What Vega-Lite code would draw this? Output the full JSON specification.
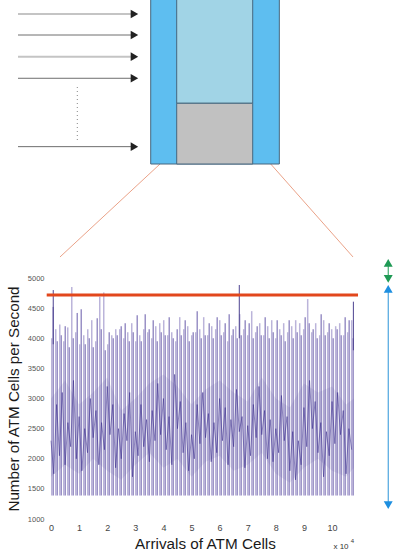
{
  "$schema": "https://vega.github.io/schema/vega-lite/v6.json",
  "width": 308,
  "height": 241,
  "autosize": {"type": "none"},
  "padding": {"left": 51, "top": 278, "right": 34, "bottom": 35},
  "background": "white",
  "config": {
    "view": {"stroke": null},
    "axis": {"grid": false, "domain": false, "ticks": false, "labelOverlap": false, "labelFlush": false, "labelFont": "Liberation Sans", "titleFont": "Liberation Sans", "titleFontWeight": "normal"}
  },
  "datasets": {
    "stripes": [
      {"x": 0.027, "L": 4000, "D": 4520}, {"x": 0.169, "L": 4150, "D": 3950}, {"x": 0.312, "L": 4230, "D": 4050}, {"x": 0.454, "L": 3950, "D": 4200},
      {"x": 0.596, "L": 4180, "D": 3850}, {"x": 0.739, "L": 4850, "D": 4000}, {"x": 0.881, "L": 4100, "D": 4420}, {"x": 1.023, "L": 3900, "D": 4480},
      {"x": 1.165, "L": 4050, "D": 3900}, {"x": 1.308, "L": 4150, "D": 4000}, {"x": 1.45, "L": 4300, "D": 3850}, {"x": 1.592, "L": 3950, "D": 4330},
      {"x": 1.735, "L": 4690, "D": 4150}, {"x": 1.877, "L": 4760, "D": 3800}, {"x": 2.019, "L": 3900, "D": 4100}, {"x": 2.162, "L": 4050, "D": 4000},
      {"x": 2.304, "L": 4150, "D": 4050}, {"x": 2.446, "L": 4150, "D": 4200}, {"x": 2.588, "L": 4000, "D": 4250}, {"x": 2.731, "L": 4100, "D": 3950},
      {"x": 2.873, "L": 4250, "D": 4100}, {"x": 3.015, "L": 3950, "D": 4380}, {"x": 3.158, "L": 4050, "D": 3950}, {"x": 3.3, "L": 4150, "D": 4400},
      {"x": 3.442, "L": 4100, "D": 4150}, {"x": 3.585, "L": 4000, "D": 4300}, {"x": 3.727, "L": 4200, "D": 3950}, {"x": 3.869, "L": 4250, "D": 4100},
      {"x": 4.011, "L": 4300, "D": 4050}, {"x": 4.154, "L": 4050, "D": 4350}, {"x": 4.296, "L": 4100, "D": 4000}, {"x": 4.438, "L": 3950, "D": 4150},
      {"x": 4.581, "L": 4350, "D": 4050}, {"x": 4.723, "L": 4150, "D": 4300}, {"x": 4.865, "L": 4200, "D": 3950}, {"x": 5.008, "L": 4050, "D": 4100},
      {"x": 5.15, "L": 4100, "D": 4450}, {"x": 5.292, "L": 4150, "D": 4000}, {"x": 5.434, "L": 4350, "D": 4050}, {"x": 5.577, "L": 4050, "D": 4250},
      {"x": 5.719, "L": 4200, "D": 4000}, {"x": 5.861, "L": 4150, "D": 4350}, {"x": 6.004, "L": 4300, "D": 4050}, {"x": 6.146, "L": 4100, "D": 4250},
      {"x": 6.288, "L": 3950, "D": 4400}, {"x": 6.431, "L": 4050, "D": 4150}, {"x": 6.573, "L": 4200, "D": 4000}, {"x": 6.715, "L": 4400, "D": 4050},
      {"x": 6.857, "L": 4150, "D": 4300}, {"x": 7.0, "L": 4050, "D": 4250}, {"x": 7.142, "L": 4450, "D": 4000}, {"x": 7.284, "L": 4100, "D": 4200},
      {"x": 7.427, "L": 4250, "D": 4050}, {"x": 7.569, "L": 4050, "D": 4350}, {"x": 7.711, "L": 4200, "D": 4000}, {"x": 7.854, "L": 4300, "D": 4100},
      {"x": 7.996, "L": 4000, "D": 4300}, {"x": 8.138, "L": 4150, "D": 4050}, {"x": 8.28, "L": 4250, "D": 3950}, {"x": 8.423, "L": 4100, "D": 4300},
      {"x": 8.565, "L": 4200, "D": 4000}, {"x": 8.707, "L": 4300, "D": 4100}, {"x": 8.85, "L": 4250, "D": 4050}, {"x": 8.992, "L": 4150, "D": 4350},
      {"x": 9.134, "L": 4650, "D": 4250}, {"x": 9.277, "L": 4100, "D": 4150}, {"x": 9.419, "L": 4250, "D": 4000}, {"x": 9.561, "L": 4050, "D": 4400},
      {"x": 9.703, "L": 4300, "D": 4050}, {"x": 9.846, "L": 4100, "D": 4250}, {"x": 9.988, "L": 4150, "D": 4000}, {"x": 10.13, "L": 4200, "D": 4150},
      {"x": 10.273, "L": 4250, "D": 4050}, {"x": 10.415, "L": 4050, "D": 4350}, {"x": 10.557, "L": 4100, "D": 4300}, {"x": 10.7, "L": 4300, "D": 4000}
    ],
    "band": [
      {"x": 0.0, "lo": 1700, "hi": 3000}, {"x": 0.5, "lo": 1900, "hi": 3300}, {"x": 1.0, "lo": 1750, "hi": 2900}, {"x": 1.5, "lo": 2000, "hi": 3100},
      {"x": 2.0, "lo": 1800, "hi": 3350}, {"x": 2.5, "lo": 1650, "hi": 2800}, {"x": 3.0, "lo": 1900, "hi": 3000}, {"x": 3.5, "lo": 2100, "hi": 3250},
      {"x": 4.0, "lo": 1850, "hi": 3400}, {"x": 4.5, "lo": 2000, "hi": 3200}, {"x": 5.0, "lo": 1700, "hi": 2900}, {"x": 5.5, "lo": 1950, "hi": 3150},
      {"x": 6.0, "lo": 2050, "hi": 3300}, {"x": 6.5, "lo": 1800, "hi": 3100}, {"x": 7.0, "lo": 1900, "hi": 2950}, {"x": 7.5, "lo": 2100, "hi": 3350},
      {"x": 8.0, "lo": 1750, "hi": 3000}, {"x": 8.5, "lo": 1600, "hi": 2850}, {"x": 9.0, "lo": 1850, "hi": 3250}, {"x": 9.5, "lo": 2000, "hi": 3100},
      {"x": 10.0, "lo": 1800, "hi": 3200}, {"x": 10.5, "lo": 1700, "hi": 2900}, {"x": 10.78, "lo": 1850, "hi": 3000}
    ],
    "wiggle": [
      {"x": 0.0, "y": 2300}, {"x": 0.1, "y": 1750}, {"x": 0.2, "y": 2900}, {"x": 0.3, "y": 2050}, {"x": 0.4, "y": 3100}, {"x": 0.5, "y": 1900},
      {"x": 0.6, "y": 2600}, {"x": 0.7, "y": 2200}, {"x": 0.8, "y": 3300}, {"x": 0.9, "y": 2000}, {"x": 1.0, "y": 2700}, {"x": 1.1, "y": 1800},
      {"x": 1.2, "y": 2500}, {"x": 1.3, "y": 2100}, {"x": 1.4, "y": 3000}, {"x": 1.5, "y": 2350}, {"x": 1.6, "y": 2800}, {"x": 1.7, "y": 1900},
      {"x": 1.8, "y": 2600}, {"x": 1.9, "y": 2150}, {"x": 2.0, "y": 3200}, {"x": 2.1, "y": 2400}, {"x": 2.2, "y": 2900}, {"x": 2.3, "y": 1850},
      {"x": 2.4, "y": 2500}, {"x": 2.5, "y": 2000}, {"x": 2.6, "y": 2750}, {"x": 2.7, "y": 2300}, {"x": 2.8, "y": 3100}, {"x": 2.9, "y": 1700},
      {"x": 3.0, "y": 2450}, {"x": 3.1, "y": 2050}, {"x": 3.2, "y": 2900}, {"x": 3.3, "y": 2200}, {"x": 3.4, "y": 2650}, {"x": 3.5, "y": 1950},
      {"x": 3.6, "y": 2800}, {"x": 3.7, "y": 2300}, {"x": 3.8, "y": 3250}, {"x": 3.9, "y": 2400}, {"x": 4.0, "y": 3000}, {"x": 4.1, "y": 2150},
      {"x": 4.2, "y": 2700}, {"x": 4.3, "y": 1900}, {"x": 4.4, "y": 3400}, {"x": 4.5, "y": 2500}, {"x": 4.6, "y": 2950}, {"x": 4.7, "y": 2100},
      {"x": 4.8, "y": 2600}, {"x": 4.9, "y": 1800}, {"x": 5.0, "y": 2400}, {"x": 5.1, "y": 2000}, {"x": 5.2, "y": 2900}, {"x": 5.3, "y": 2250},
      {"x": 5.4, "y": 3100}, {"x": 5.5, "y": 2350}, {"x": 5.6, "y": 2750}, {"x": 5.7, "y": 1950}, {"x": 5.8, "y": 2600}, {"x": 5.9, "y": 2100},
      {"x": 6.0, "y": 3000}, {"x": 6.1, "y": 2300}, {"x": 6.2, "y": 2850}, {"x": 6.3, "y": 1900}, {"x": 6.4, "y": 2650}, {"x": 6.5, "y": 2200},
      {"x": 6.6, "y": 3150}, {"x": 6.7, "y": 2450}, {"x": 6.8, "y": 2700}, {"x": 6.9, "y": 1850}, {"x": 7.0, "y": 2550}, {"x": 7.1, "y": 2050},
      {"x": 7.2, "y": 2900}, {"x": 7.3, "y": 2350}, {"x": 7.4, "y": 3200}, {"x": 7.5, "y": 2400}, {"x": 7.6, "y": 2800}, {"x": 7.7, "y": 2000},
      {"x": 7.8, "y": 2650}, {"x": 7.9, "y": 1950}, {"x": 8.0, "y": 2500}, {"x": 8.1, "y": 2100}, {"x": 8.2, "y": 3050}, {"x": 8.3, "y": 2300},
      {"x": 8.4, "y": 2700}, {"x": 8.5, "y": 1800}, {"x": 8.6, "y": 2450}, {"x": 8.7, "y": 1650}, {"x": 8.8, "y": 2300}, {"x": 8.9, "y": 1900},
      {"x": 9.0, "y": 2850}, {"x": 9.1, "y": 2200}, {"x": 9.2, "y": 3300}, {"x": 9.3, "y": 2500}, {"x": 9.4, "y": 2950}, {"x": 9.5, "y": 2100},
      {"x": 9.6, "y": 2600}, {"x": 9.7, "y": 1700}, {"x": 9.8, "y": 2450}, {"x": 9.9, "y": 2050}, {"x": 10.0, "y": 2950}, {"x": 10.1, "y": 2250},
      {"x": 10.2, "y": 3100}, {"x": 10.3, "y": 2400}, {"x": 10.4, "y": 2800}, {"x": 10.5, "y": 1750}, {"x": 10.6, "y": 2500}, {"x": 10.7, "y": 2150}
    ],
    "spikes": [
      {"x": 0.08, "y": 4800, "base": 3900}, {"x": 6.7, "y": 4884, "base": 4000}, {"x": 10.76, "y": 4607, "base": 3800}
    ],
    "threshold": [{"x": -0.153, "x2": 10.925, "y": 4718}],
    "zoomLines": [
      {"x": 3.879, "y": 6892, "x2": 0.32, "y2": 5349},
      {"x": 7.819, "y": 6892, "x2": 10.747, "y2": 5349}
    ],
    "box": [
      {"part": "outer", "x": 3.548, "x2": 8.125, "y": 9700, "y2": 6892},
      {"part": "queue", "x": 4.473, "x2": 7.178, "y": 9700, "y2": 7900},
      {"part": "fill", "x": 4.473, "x2": 7.178, "y": 7900, "y2": 6892}
    ],
    "inputs": [
      {"src": "light", "x": -1.174, "x2": 2.85, "y": 9382},
      {"src": "dark", "x": -1.174, "x2": 2.85, "y": 9033},
      {"src": "light", "x": -1.174, "x2": 2.85, "y": 8673},
      {"src": "dark", "x": -1.174, "x2": 2.85, "y": 8315},
      {"src": "dark", "x": -1.174, "x2": 2.85, "y": 7180}
    ],
    "heads": [
      {"x": 2.97, "y": 9382}, {"x": 2.97, "y": 9033}, {"x": 2.97, "y": 8673}, {"x": 2.97, "y": 8315}, {"x": 2.97, "y": 7180}
    ],
    "dots": [{"x": 0.936, "y": 8170, "y2": 7241}],
    "rightArrows": [
      {"c": "green", "x": 12.0, "y": 5249, "y2": 4984},
      {"c": "blue", "x": 12.0, "y": 4818, "y2": 1232}
    ],
    "rightHeads": [
      {"c": "green", "dir": "up", "x": 12.0, "y": 5249},
      {"c": "green", "dir": "down", "x": 12.0, "y": 4984},
      {"c": "blue", "dir": "up", "x": 12.0, "y": 4818},
      {"c": "blue", "dir": "down", "x": 12.0, "y": 1232}
    ],
    "scaleNote": [{"x": 10.32, "y": 540, "t": "x 10"}],
    "scaleExp": [{"x": 10.73, "y": 630, "t": "4"}]
  },
  "layer": [
    {
      "data": {"name": "stripes"},
      "mark": {"type": "bar", "width": 1.5, "color": "#bbb4da"},
      "encoding": {
        "x": {"field": "x", "type": "quantitative",
          "scale": {"domain": [0, 10.96], "nice": false, "zero": false, "padding": 0},
          "axis": {"values": [0, 1, 2, 3, 4, 5, 6, 7, 8, 9, 10], "tickCount": 11, "labelOverlap": false, "labelFlush": false, "labelFontSize": 9, "labelColor": "#444", "labelPadding": 4,
            "title": "Arrivals of ATM Cells", "titleFontSize": 15.3, "titleColor": "#1a1a1a", "titlePadding": 4}},
        "y": {"field": "L", "type": "quantitative",
          "scale": {"domain": [1000, 5000], "nice": false, "zero": false, "padding": 0},
          "axis": {"values": [1000, 1500, 2000, 2500, 3000, 3500, 4000, 4500, 5000], "tickCount": 9, "labelOverlap": false, "labelFlush": false, "format": "d", "labelFontSize": 7.5, "labelColor": "#555", "labelPadding": 7,
            "title": "Number of ATM Cells per Second", "titleFontSize": 15.2, "titleColor": "#1a1a1a", "titlePadding": 6}},
        "y2": {"datum": 1390}
      }
    },
    {
      "data": {"name": "stripes"},
      "mark": {"type": "bar", "width": 1.5, "xOffset": 1.5, "color": "#9a91c6"},
      "encoding": {
        "x": {"field": "x", "type": "quantitative"},
        "y": {"field": "D", "type": "quantitative"},
        "y2": {"datum": 1390}
      }
    },
    {
      "data": {"name": "band"},
      "mark": {"type": "area", "color": "#5b50a5", "opacity": 0.12},
      "encoding": {
        "x": {"field": "x", "type": "quantitative"},
        "y": {"field": "hi", "type": "quantitative"},
        "y2": {"field": "lo"}
      }
    },
    {
      "data": {"name": "wiggle"},
      "mark": {"type": "line", "color": "#35298a", "strokeWidth": 0.7, "opacity": 0.75},
      "encoding": {
        "x": {"field": "x", "type": "quantitative"},
        "y": {"field": "y", "type": "quantitative"}
      }
    },
    {
      "data": {"name": "spikes"},
      "mark": {"type": "rule", "color": "#4d4390", "strokeWidth": 1},
      "encoding": {
        "x": {"field": "x", "type": "quantitative"},
        "y": {"field": "y", "type": "quantitative"},
        "y2": {"field": "base"}
      }
    },
    {
      "data": {"name": "threshold"},
      "mark": {"type": "rule", "color": "#e2471c", "strokeWidth": 3},
      "encoding": {
        "x": {"field": "x", "type": "quantitative"},
        "x2": {"field": "x2"},
        "y": {"field": "y", "type": "quantitative"}
      }
    },
    {
      "data": {"name": "zoomLines"},
      "mark": {"type": "rule", "color": "#e48a6a", "strokeWidth": 0.8},
      "encoding": {
        "x": {"field": "x", "type": "quantitative"},
        "x2": {"field": "x2"},
        "y": {"field": "y", "type": "quantitative"},
        "y2": {"field": "y2"}
      }
    },
    {
      "data": {"name": "box"},
      "transform": [{"filter": "datum.part === 'outer'"}],
      "mark": {"type": "rect", "color": "#5ebef0", "stroke": "#46677f", "strokeWidth": 1},
      "encoding": {
        "x": {"field": "x", "type": "quantitative"}, "x2": {"field": "x2"},
        "y": {"field": "y", "type": "quantitative"}, "y2": {"field": "y2"}
      }
    },
    {
      "data": {"name": "box"},
      "transform": [{"filter": "datum.part === 'queue'"}],
      "mark": {"type": "rect", "color": "#a1d4e6", "stroke": "#46677f", "strokeWidth": 1},
      "encoding": {
        "x": {"field": "x", "type": "quantitative"}, "x2": {"field": "x2"},
        "y": {"field": "y", "type": "quantitative"}, "y2": {"field": "y2"}
      }
    },
    {
      "data": {"name": "box"},
      "transform": [{"filter": "datum.part === 'fill'"}],
      "mark": {"type": "rect", "color": "#c1c1c1", "stroke": "#46677f", "strokeWidth": 1},
      "encoding": {
        "x": {"field": "x", "type": "quantitative"}, "x2": {"field": "x2"},
        "y": {"field": "y", "type": "quantitative"}, "y2": {"field": "y2"}
      }
    },
    {
      "data": {"name": "inputs"},
      "transform": [{"filter": "datum.src === 'light'"}],
      "mark": {"type": "rule", "color": "#c4c4c4", "strokeWidth": 2},
      "encoding": {
        "x": {"field": "x", "type": "quantitative"}, "x2": {"field": "x2"},
        "y": {"field": "y", "type": "quantitative"}
      }
    },
    {
      "data": {"name": "inputs"},
      "transform": [{"filter": "datum.src === 'dark'"}],
      "mark": {"type": "rule", "color": "#6e6e6e", "strokeWidth": 1},
      "encoding": {
        "x": {"field": "x", "type": "quantitative"}, "x2": {"field": "x2"},
        "y": {"field": "y", "type": "quantitative"}
      }
    },
    {
      "data": {"name": "dots"},
      "mark": {"type": "rule", "color": "#888888", "strokeWidth": 1, "strokeDash": [1, 3]},
      "encoding": {
        "x": {"field": "x", "type": "quantitative"},
        "y": {"field": "y", "type": "quantitative"}, "y2": {"field": "y2"}
      }
    },
    {
      "data": {"name": "heads"},
      "mark": {"type": "point", "shape": "triangle-right", "filled": true, "color": "#222222", "size": 75, "opacity": 1},
      "encoding": {
        "x": {"field": "x", "type": "quantitative"},
        "y": {"field": "y", "type": "quantitative"}
      }
    },
    {
      "data": {"name": "rightArrows"},
      "transform": [{"filter": "datum.c === 'green'"}],
      "mark": {"type": "rule", "color": "#1f9a55", "strokeWidth": 1},
      "encoding": {
        "x": {"field": "x", "type": "quantitative"},
        "y": {"field": "y", "type": "quantitative"}, "y2": {"field": "y2"}
      }
    },
    {
      "data": {"name": "rightArrows"},
      "transform": [{"filter": "datum.c === 'blue'"}],
      "mark": {"type": "rule", "color": "#2a93d8", "strokeWidth": 1},
      "encoding": {
        "x": {"field": "x", "type": "quantitative"},
        "y": {"field": "y", "type": "quantitative"}, "y2": {"field": "y2"}
      }
    },
    {
      "data": {"name": "rightHeads"},
      "transform": [{"filter": "datum.c === 'green' && datum.dir === 'up'"}],
      "mark": {"type": "point", "shape": "triangle-up", "filled": true, "color": "#1f9a55", "size": 80, "opacity": 1},
      "encoding": {"x": {"field": "x", "type": "quantitative"}, "y": {"field": "y", "type": "quantitative"}}
    },
    {
      "data": {"name": "rightHeads"},
      "transform": [{"filter": "datum.c === 'green' && datum.dir === 'down'"}],
      "mark": {"type": "point", "shape": "triangle-down", "filled": true, "color": "#1f9a55", "size": 80, "opacity": 1},
      "encoding": {"x": {"field": "x", "type": "quantitative"}, "y": {"field": "y", "type": "quantitative"}}
    },
    {
      "data": {"name": "rightHeads"},
      "transform": [{"filter": "datum.c === 'blue' && datum.dir === 'up'"}],
      "mark": {"type": "point", "shape": "triangle-up", "filled": true, "color": "#1e8fe0", "size": 80, "opacity": 1},
      "encoding": {"x": {"field": "x", "type": "quantitative"}, "y": {"field": "y", "type": "quantitative"}}
    },
    {
      "data": {"name": "rightHeads"},
      "transform": [{"filter": "datum.c === 'blue' && datum.dir === 'down'"}],
      "mark": {"type": "point", "shape": "triangle-down", "filled": true, "color": "#1e8fe0", "size": 80, "opacity": 1},
      "encoding": {"x": {"field": "x", "type": "quantitative"}, "y": {"field": "y", "type": "quantitative"}}
    },
    {
      "data": {"name": "scaleNote"},
      "mark": {"type": "text", "font": "Liberation Sans", "fontSize": 8, "color": "#333333"},
      "encoding": {"x": {"field": "x", "type": "quantitative"}, "y": {"field": "y", "type": "quantitative"}, "text": {"field": "t"}}
    },
    {
      "data": {"name": "scaleExp"},
      "mark": {"type": "text", "font": "Liberation Sans", "fontSize": 6, "color": "#333333"},
      "encoding": {"x": {"field": "x", "type": "quantitative"}, "y": {"field": "y", "type": "quantitative"}, "text": {"field": "t"}}
    }
  ]
}
